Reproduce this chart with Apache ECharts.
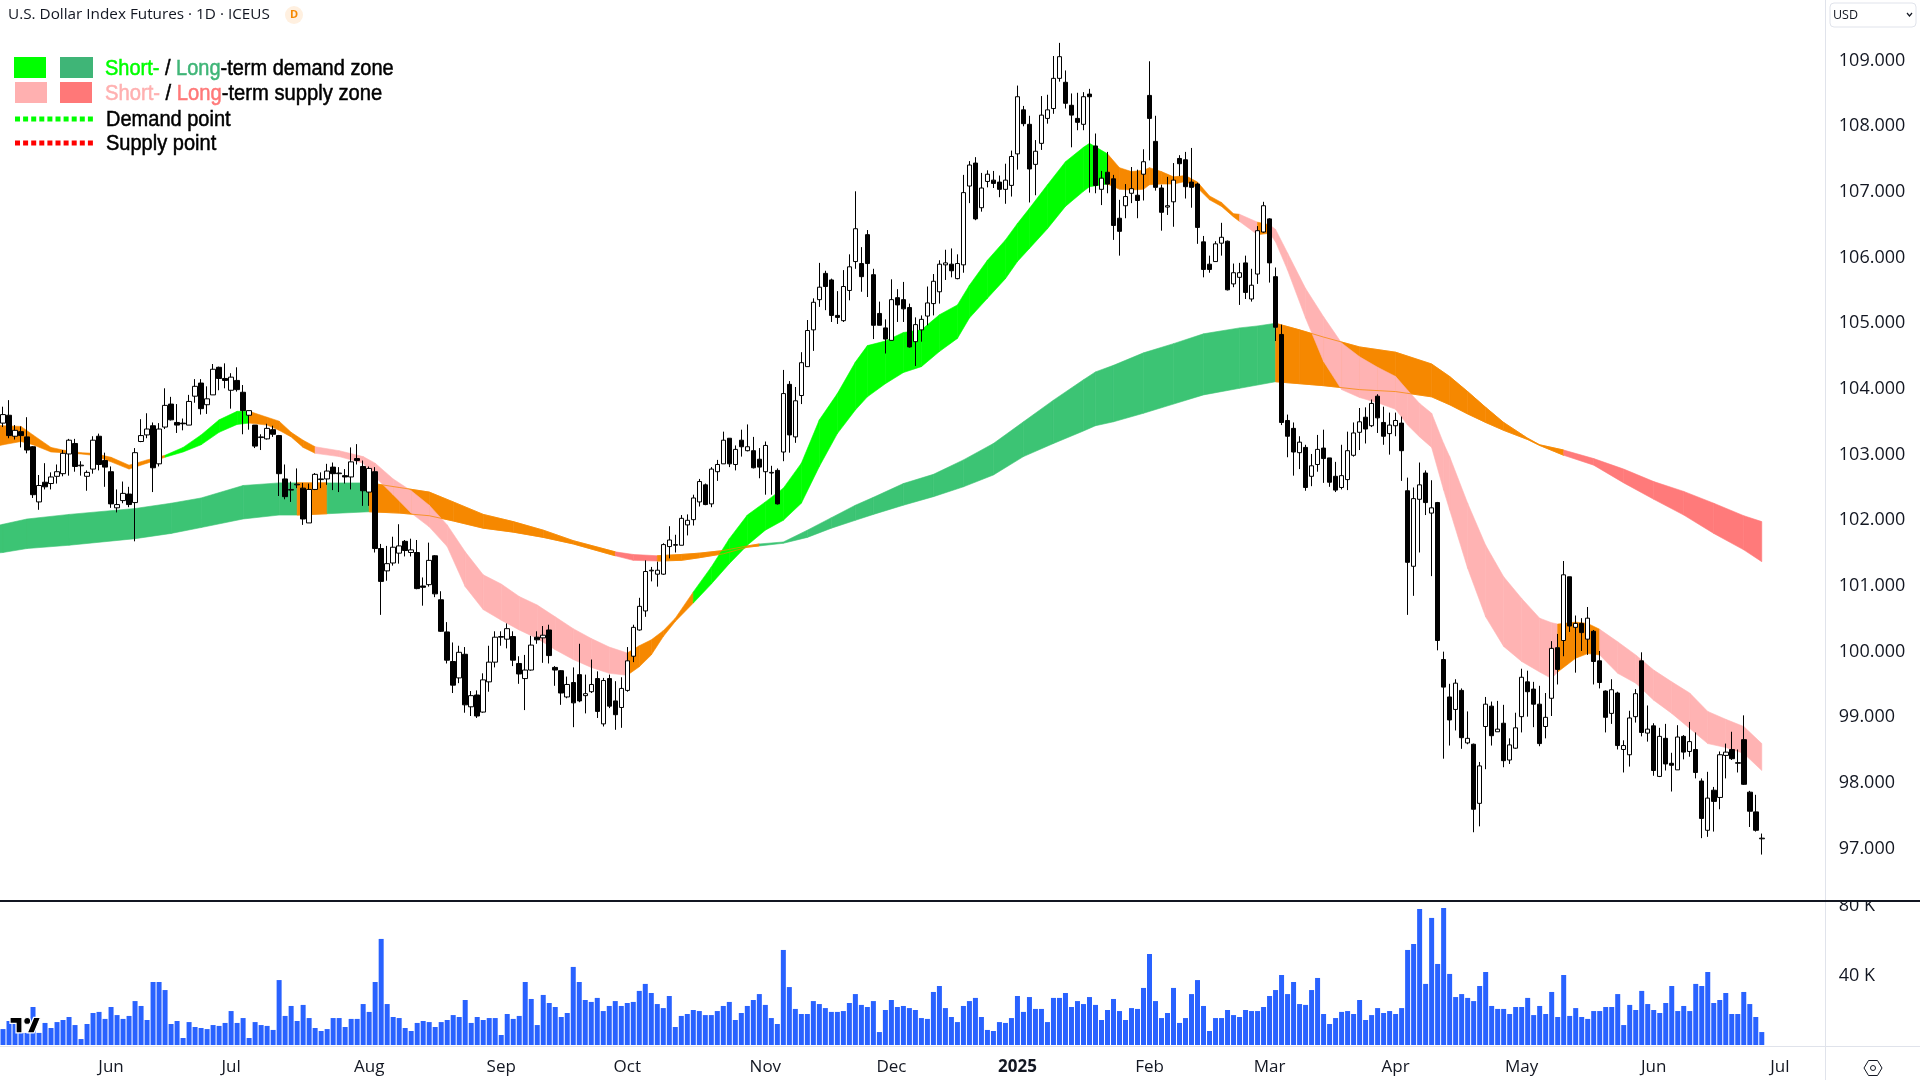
<!DOCTYPE html>
<html><head><meta charset="utf-8">
<style>html,body{margin:0;padding:0;background:#fff}#c{width:1920px;height:1080px}</style>
<script src="https://cdn.jsdelivr.net/npm/echarts@6/dist/echarts.min.js"></script>
</head><body><div id="c"></div>
<script>
const opens=[103.44,103.56,103.24,103.31,103.23,103.08,102.24,102.54,102.52,102.63,
102.67,102.97,103.13,102.79,102.63,102.74,103.24,102.87,102.70,102.15,
102.26,102.36,102.23,103.16,103.26,103.40,102.82,103.38,103.73,103.45,
103.44,103.41,103.85,104.05,103.72,103.87,104.29,104.12,103.94,104.09,
103.91,103.56,103.41,103.22,103.20,103.34,103.25,102.59,102.42,102.50,
102.45,101.92,102.43,102.58,102.59,102.77,102.67,102.64,102.62,102.90,
102.78,102.39,102.70,101.53,101.19,101.31,101.46,101.64,101.47,101.47,
100.96,100.98,101.42,100.75,100.26,99.81,99.56,99.92,99.12,99.30,
99.04,99.50,99.80,100.18,100.15,100.19,99.78,99.55,99.68,100.18,
100.17,100.29,99.72,99.67,99.27,99.49,99.61,99.29,99.35,99.55,
98.86,99.55,99.21,99.11,99.37,99.89,100.29,100.58,101.19,101.14,
101.14,101.56,101.58,101.58,101.89,101.97,102.24,102.50,102.21,102.70,
102.82,103.21,102.81,103.18,103.02,103.02,102.89,102.70,102.68,102.72,
103.00,104.03,103.23,103.86,104.30,104.86,105.32,105.72,105.62,105.08,
105.00,105.46,105.90,105.87,106.31,105.70,105.11,104.89,104.70,105.35,
105.32,105.20,104.68,104.86,105.07,105.26,105.44,105.85,105.86,105.64,
105.85,107.05,107.40,106.72,107.12,107.14,107.11,107.00,107.06,107.54,
108.21,107.99,107.38,107.70,108.08,108.23,108.69,108.63,108.28,108.08,
107.99,108.45,107.66,107.00,107.26,107.16,106.56,106.75,106.94,106.91,
107.23,108.43,107.73,107.02,106.73,106.81,107.47,107.45,107.11,107.08,
106.20,105.86,105.90,106.18,106.21,105.56,105.66,105.88,105.33,105.71,
106.35,106.55,105.67,104.79,103.48,103.36,102.99,103.07,102.63,102.81,
103.06,102.91,102.63,102.46,102.58,102.95,103.30,103.53,103.40,103.85,
103.45,103.28,103.40,103.44,102.41,101.26,102.28,102.68,102.07,102.23,
99.84,99.27,99.08,99.37,98.57,98.55,97.65,98.82,99.13,98.74,
98.87,98.31,98.49,98.97,99.50,99.39,99.16,98.82,99.25,100.02,
100.13,101.10,100.33,100.39,100.15,100.27,99.82,99.36,99.02,99.33,
98.47,98.39,98.97,99.82,98.72,98.83,98.06,98.64,98.26,98.16,
98.67,98.44,98.47,97.99,97.24,97.85,97.74,98.38,98.47,98.26,
98.62,97.82,97.52,97.11];
const closes=[103.57,103.25,103.33,103.25,103.03,102.35,102.49,102.47,102.62,102.70,
102.98,103.18,102.78,102.80,102.69,103.18,102.81,102.77,102.21,102.20,
102.37,102.20,102.99,103.25,103.35,102.76,103.35,103.71,103.49,103.41,
103.43,103.77,104.00,103.66,103.81,104.26,104.12,104.09,104.14,103.95,
103.63,103.63,103.09,103.23,103.36,103.27,102.67,102.32,102.43,102.51,
101.98,102.43,102.66,102.59,102.71,102.67,102.68,102.62,102.85,102.87,
102.41,102.75,101.53,101.03,101.30,101.55,101.57,101.50,101.51,100.92,
100.94,101.35,100.84,100.27,99.83,99.45,99.95,99.15,99.29,98.98,
99.53,99.80,100.18,100.19,100.31,99.83,99.62,99.68,100.06,100.14,
100.21,99.90,99.68,99.33,99.46,99.18,99.21,99.32,99.46,99.05,
99.52,99.13,99.00,99.40,99.82,100.33,100.65,101.18,101.20,101.20,
101.59,101.66,101.59,101.99,101.96,102.30,102.55,102.20,102.74,102.81,
103.18,102.82,103.04,103.08,103.08,102.76,102.77,103.10,102.69,102.21,
103.89,103.26,103.78,104.36,104.85,105.28,105.51,105.52,105.08,105.05,
105.52,105.82,106.40,105.67,105.87,104.93,104.93,104.72,105.32,105.24,
105.18,104.60,104.94,105.02,105.27,105.60,105.86,105.88,105.76,105.87,
106.95,107.37,106.55,107.02,107.23,107.09,107.00,107.14,107.50,108.41,
108.00,107.31,107.58,108.13,108.21,108.69,109.02,108.31,108.13,108.02,
108.41,108.41,107.06,107.17,107.08,106.45,106.36,106.89,107.01,106.83,
107.42,108.08,107.03,106.65,106.75,107.14,107.39,107.04,107.03,106.42,
105.78,105.78,106.17,106.27,105.47,105.73,105.73,105.43,105.54,106.37,
106.75,105.88,104.90,103.45,103.24,103.00,103.15,102.46,102.79,103.04,
102.90,102.54,102.42,102.64,103.02,103.29,103.46,103.35,103.74,103.52,
103.24,103.41,103.48,103.02,101.32,102.29,102.50,102.23,102.15,100.13,
99.42,98.92,99.48,98.65,98.64,97.56,98.22,99.16,98.68,98.78,
98.30,98.54,98.80,99.57,99.35,99.16,98.56,98.96,100.01,99.69,
101.13,100.35,100.39,100.25,100.47,99.81,99.49,98.96,99.38,98.53,
98.53,98.95,99.32,98.73,98.78,98.15,98.67,98.25,98.23,98.66,
98.43,98.59,98.12,97.42,97.73,97.68,98.39,98.43,98.33,98.27,
97.94,97.53,97.24,97.12];
const highs=[103.69,103.79,103.41,103.39,103.53,103.09,102.65,102.83,102.69,102.81,
103.03,103.20,103.20,102.86,102.72,103.24,103.28,102.99,102.78,102.43,
102.55,102.47,103.06,103.50,103.59,103.45,103.44,103.97,103.84,103.73,
103.51,103.87,104.11,104.11,104.00,104.34,104.30,104.35,104.20,104.29,
104.02,103.63,103.41,103.27,103.43,103.40,103.26,102.81,102.55,102.75,
102.53,102.52,102.68,102.69,102.82,102.84,102.77,102.74,103.07,103.12,
102.87,102.78,102.77,101.60,101.57,101.71,101.90,101.66,101.68,101.66,
101.09,101.62,101.43,100.88,100.41,100.10,100.05,100.03,99.36,99.37,
99.63,100.05,100.27,100.27,100.39,100.27,99.89,99.91,100.20,100.27,
100.35,100.37,99.74,99.68,99.58,99.72,100.08,99.61,99.84,99.66,
99.56,99.61,99.51,99.57,100.03,100.37,100.78,101.35,101.25,101.33,
101.61,101.87,101.74,102.04,102.05,102.35,102.59,102.52,102.77,102.88,
103.31,103.21,103.10,103.34,103.42,103.23,103.06,103.16,102.79,102.75,
104.25,104.08,103.99,104.52,105.01,105.34,105.88,105.76,105.64,105.45,
105.77,106.01,106.97,106.12,106.38,105.79,105.29,105.02,105.63,105.48,
105.59,105.26,105.05,105.08,105.52,105.71,105.92,106.08,106.10,106.01,
107.22,107.43,107.49,107.25,107.29,107.28,107.21,107.39,107.59,108.58,
108.27,108.12,107.75,108.42,108.44,109.03,109.23,108.81,108.46,108.47,
108.48,108.53,107.85,107.28,107.57,107.22,106.84,107.08,107.34,107.30,
107.61,108.95,108.12,107.07,107.19,107.40,107.52,107.57,107.63,107.10,
106.29,105.99,106.21,106.49,106.22,105.87,105.88,105.99,105.79,106.44,
106.81,106.56,105.81,104.94,103.57,103.45,103.24,103.11,102.97,103.26,
103.34,102.91,102.85,103.11,103.31,103.45,103.67,103.68,103.80,103.88,
103.69,103.60,103.60,103.54,102.61,102.46,102.84,102.72,102.57,102.24,
99.96,99.47,99.54,99.40,99.05,98.56,98.28,99.27,99.20,99.21,
99.15,98.64,99.03,99.70,99.67,99.50,99.44,99.33,100.12,100.23,
101.34,101.10,100.51,100.47,100.64,100.29,99.97,99.37,99.54,99.35,
98.61,99.06,99.39,99.95,99.14,98.87,98.80,98.86,98.42,98.84,
98.69,98.89,98.73,98.03,98.13,97.90,98.44,98.56,98.74,98.47,
98.99,97.84,97.78,97.19];
const lows=[103.38,103.21,103.19,103.07,102.98,102.30,102.12,102.43,102.43,102.52,
102.63,102.64,102.70,102.64,102.41,102.67,102.72,102.47,102.15,102.08,
102.22,102.16,101.64,103.15,103.21,102.39,102.78,103.35,103.48,103.29,
103.33,103.41,103.75,103.57,103.58,103.87,103.94,103.97,103.66,103.92,
103.27,103.34,103.06,103.03,103.19,103.23,102.33,102.28,102.24,102.45,
101.89,101.92,102.42,102.45,102.50,102.42,102.39,102.52,102.43,102.81,
102.18,102.18,101.47,100.52,101.04,101.27,101.30,101.41,101.41,100.91,
100.66,100.95,100.79,100.26,99.78,99.33,99.48,99.03,98.98,98.95,
99.03,99.35,99.72,100.05,100.01,99.74,99.47,99.07,99.67,100.08,
99.79,99.78,99.44,99.15,99.25,98.81,99.19,99.02,99.33,98.95,
98.82,99.10,98.77,98.80,99.35,99.80,100.28,100.49,101.03,100.95,
101.13,101.38,101.47,101.58,101.73,101.88,102.17,102.19,102.16,102.56,
102.82,102.77,102.72,102.93,103.01,102.75,102.60,102.35,102.35,102.20,
102.86,102.99,103.14,103.73,104.30,104.54,105.21,105.16,104.98,104.95,
104.98,105.31,105.79,105.44,105.36,104.72,104.93,104.50,104.70,104.98,
104.98,104.59,104.31,104.68,104.93,105.08,105.26,105.62,105.66,105.63,
105.73,106.79,106.53,106.66,107.03,107.02,106.88,106.78,106.89,107.30,
107.96,106.80,106.91,107.60,108.00,108.15,108.64,108.23,107.64,107.90,
107.90,106.95,106.94,106.76,106.94,106.23,105.99,106.56,106.79,106.56,
106.83,107.44,106.98,106.37,106.61,106.43,107.20,106.86,106.72,106.17,
105.66,105.73,105.90,105.99,105.46,105.51,105.24,105.33,105.29,105.56,
106.34,105.58,104.69,103.41,102.92,102.64,102.74,102.41,102.48,102.70,
102.53,102.47,102.39,102.43,102.42,102.93,103.03,103.13,103.38,103.29,
103.11,102.96,103.24,102.56,100.52,100.81,101.47,102.04,101.11,99.98,
98.33,98.53,98.76,98.48,98.55,97.21,97.30,98.17,98.53,98.74,
98.20,98.25,98.48,98.73,98.97,98.81,98.52,98.64,98.98,99.46,
99.89,100.26,99.64,99.97,99.91,99.46,99.40,98.73,98.86,98.47,
98.12,98.21,98.88,98.67,98.59,98.07,98.05,98.15,97.83,98.16,
98.32,98.36,98.03,97.12,97.14,97.22,97.56,98.03,98.31,98.12,
97.93,97.29,97.22,96.87];
const volumesK=[9.1,13.7,12,6.9,6.9,21.7,6.9,12.6,9.7,13.1,
14.3,16,11.4,3.4,12,18.3,18.9,14.9,21.7,17.1,
14.9,16.6,25.1,22.3,14.3,36,36,31.4,12,13.7,
4,13.1,10.3,9.7,9.1,11.4,10.9,12.6,19.4,12.6,
15.4,4,13.1,11.4,10.9,8.6,37.1,16.6,22.3,13.7,
22.9,15.4,9.7,8,9.1,15.4,15.4,10.3,14.9,14.9,
23.4,18.9,36,60.6,23.4,16,15.4,9.7,8,12.6,
13.7,13.1,10.3,13.1,14.3,17.1,16,25.7,12.6,16,
14.3,15.4,15.4,5.7,17.7,14.9,16.6,36,26.3,11.4,
28.6,24,21.7,16,18.3,44.6,36,25.7,24.6,26.9,
19.4,22.3,25.1,22.3,24,24.6,30.9,34.9,29.7,23.4,
21.1,28,10.3,16.6,17.7,20,19.4,17.1,17.1,19.4,
22.3,24.6,14.3,18.3,22.3,25.7,29.1,22.9,15.4,12,
54.3,33.1,20.6,17.7,17.7,25.1,23.4,21.1,18.9,18.9,
19.4,24,29.1,22.9,21.7,25.1,7.4,20,25.7,21.7,
22.3,21.1,20,15.4,14.9,30.3,33.7,21.1,16,13.1,
22.3,25.1,26.9,16,8.6,8,13.1,12.6,15.4,28,
18.9,27.4,20.6,20.6,13.1,26.9,26.9,29.7,21.7,25.1,
23.4,27.4,22.9,14.3,20,26.3,19.4,14.3,21.1,20.6,
32.6,52,25.1,15.4,18.3,32.6,12.6,15.4,29.1,37.1,
22.3,8,15.4,15.4,20,17.1,16,20,19.4,19.4,
21.7,28,31.4,40,29.1,36,23.4,22.9,31.4,38.3,
17.7,12,15.4,18.9,19.4,17.7,25.7,14.3,17.1,21.1,
18.3,19.4,17.7,21.1,54.3,57.7,77.7,34.9,72.6,46.3,
78.3,40.6,27.4,29.1,26.9,25.1,33.7,41.7,22.3,20.6,
20.6,17.7,21.7,21.7,26.9,17.1,22.3,17.7,30.3,16,
40,16.6,21.1,16,14.9,19.4,19.4,21.7,21.7,29.1,
11.4,22.9,20,30.9,23.4,20,18.3,24,33.7,19.4,
22.3,19.4,34.9,33.7,41.7,24,25.7,29.7,17.7,17.7,
30.3,23.4,16,7.4];

// Long-term band: vertices read at these bars
const longBars=[-1,0,4,11,22,28,33,40,46,49,54,61,66,71,75,80,85,90,95,102,105,109,113,116,120,124,126,130,134,138,142,145,150,155,160,165,170,175,180,182,185,190,195,200,206,209,212,216,220,226,232,238,241,244,247,250,254,256,260,265,270,275,280,285,290,293];
const longTop=[101.88,101.90,101.98,102.05,102.14,102.22,102.30,102.49,102.53,102.53,102.53,102.53,102.46,102.39,102.24,102.05,101.94,101.81,101.65,101.48,101.44,101.42,101.44,101.46,101.50,101.57,101.60,101.63,101.81,102.00,102.19,102.31,102.52,102.66,102.88,103.13,103.46,103.79,104.10,104.22,104.32,104.51,104.65,104.80,104.89,104.92,104.96,104.86,104.75,104.60,104.52,104.34,104.15,103.92,103.68,103.45,103.21,103.11,103.03,102.90,102.74,102.55,102.40,102.22,102.03,101.94];
const longBot=[101.46,101.47,101.53,101.58,101.68,101.76,101.85,101.98,102.04,102.04,102.06,102.09,102.07,102.03,101.95,101.84,101.78,101.70,101.60,101.42,101.35,101.34,101.35,101.39,101.45,101.55,101.57,101.61,101.70,101.84,101.96,102.05,102.19,102.32,102.47,102.65,102.93,103.13,103.32,103.40,103.46,103.59,103.73,103.87,103.97,104.02,104.07,104.04,104.01,103.95,103.92,103.84,103.72,103.58,103.45,103.33,103.19,103.10,102.95,102.80,102.53,102.28,102.04,101.76,101.51,101.33];
const longBreaks=[49,54,61,102,109,126,212,260];
const longZones=['demand','neutral','demand','neutral','supply','neutral','demand','neutral','supply'];

// Short-term band
const shortBars=[-1,0,3,5,8,10,13,15,18,21,24,27,30,33,36,39,41,44,46,48,50,52,56,60,62,65,68,71,74,77,80,83,86,89,92,95,98,101,104,106,108,110,112,115,118,121,124,127,130,133,136,139,142,144,147,150,153,156,159,161,164,167,169,171,174,177,180,181,184,186,188,190,191,193,195,197,199,201,203,205,206,209,211,212,214,217,220,223,226,229,232,234,236,238,240,241,244,247,250,253,256,258,259,262,264,266,269,272,275,278,281,284,287,290,293];
const shortTop=[103.41,103.40,103.39,103.26,103.07,103.03,102.99,102.98,102.92,102.80,102.88,102.95,103.07,103.26,103.49,103.62,103.62,103.53,103.47,103.30,103.18,103.08,103.02,102.93,102.83,102.59,102.41,102.19,101.89,101.48,101.13,100.99,100.80,100.67,100.49,100.31,100.16,100.03,99.94,100.05,100.14,100.28,100.47,100.87,101.25,101.68,102.04,102.24,102.45,102.83,103.49,103.89,104.37,104.62,104.69,104.82,104.86,105.09,105.24,105.54,105.92,106.23,106.48,106.71,107.07,107.42,107.64,107.70,107.54,107.33,107.27,107.29,107.33,107.27,107.19,107.21,107.11,106.90,106.80,106.63,106.62,106.50,106.46,106.39,106.03,105.49,105.06,104.66,104.45,104.29,104.15,103.94,103.74,103.59,103.13,102.93,102.22,101.58,101.10,100.77,100.47,100.40,100.38,100.41,100.39,100.30,100.11,99.91,99.68,99.50,99.33,99.05,98.93,98.82,98.56];
const shortBot=[103.09,103.11,103.16,103.11,103.00,102.99,102.97,102.95,102.85,102.74,102.83,102.92,103.00,103.11,103.30,103.42,103.44,103.41,103.33,103.23,103.07,102.98,102.93,102.83,102.62,102.35,102.07,101.86,101.56,100.95,100.60,100.44,100.29,100.16,99.99,99.84,99.72,99.63,99.60,99.73,99.91,100.19,100.42,100.70,100.99,101.30,101.58,101.81,101.96,102.22,102.78,103.28,103.64,103.84,104.04,104.21,104.30,104.53,104.73,105.04,105.34,105.64,105.90,106.10,106.40,106.74,106.97,107.04,107.08,107.00,106.99,107.00,107.07,107.08,107.08,107.12,107.02,106.84,106.74,106.58,106.51,106.31,106.33,106.20,105.77,105.04,104.38,103.95,103.83,103.75,103.65,103.41,103.23,103.07,102.42,102.12,101.23,100.49,100.04,99.81,99.65,99.55,99.65,99.86,99.93,99.91,99.63,99.48,99.22,99.02,98.79,98.56,98.50,98.41,98.15];
const shortBreaks=[27,41,52,104,115,184,206,209,211,259,266];
const shortZones=['neutral','demand','neutral','supply','neutral','demand','neutral','supply','neutral','supply','neutral','supply'];

const priceTicks=[97,98,99,100,101,102,103,104,105,106,107,108,109];
const volumeTicks=[40,80];
const timeTicks={18:'Jun',38:'Jul',61:'Aug',83:'Sep',104:'Oct',127:'Nov',148:'Dec',169:'2025',191:'Feb',211:'Mar',232:'Apr',253:'May',275:'Jun',296:'Jul'};

const SLOTS=304;
const categories=Array.from({length:SLOTS},(_,i)=>String(i));
const longColors={demand:'#3cc474',neutral:'#f68800',supply:'#ff7a7a'};
const shortColors={demand:'#00ff00',neutral:'#f68800',supply:'#ffb3b3'};
const sans='"Open Sans","Noto Sans",sans-serif';

function segments(bars,top,bot,breaks,zones){
  const out=[];
  for(let k=0;k<bars.length-1;k++){
    let z=0; while(z<breaks.length && bars[k]>=breaks[z]) z++;
    out.push([bars[k],top[k],bot[k],bars[k+1],top[k+1],bot[k+1],zones[z]]);
  }
  return out;
}
const longSeg=segments(longBars,longTop,longBot,longBreaks,longZones);
const shortSeg=segments(shortBars,shortTop,shortBot,shortBreaks,shortZones);
function bandSeries(seg,colors,z){
  return {type:'custom',xAxisIndex:0,yAxisIndex:0,z,silent:true,animation:false,
    encode:{x:[0,3],y:[1,2,4,5]},
    data:seg.map(s=>s.slice(0,6)),
    renderItem(p,api){
      const a=api.coord([api.value(0),api.value(1)]),b=api.coord([api.value(0),api.value(2)]);
      const c=api.coord([api.value(3),api.value(5)]),d=api.coord([api.value(3),api.value(4)]);
      const col=colors[seg[p.dataIndex][6]];
      return {type:'polygon',shape:{points:[a,d,c,b]},style:{fill:col,stroke:col,lineWidth:0.6}};
    }};
}
const edgeSeg=longSeg.filter(s=>s[6]==='neutral');
const edgeSeries={type:'custom',xAxisIndex:0,yAxisIndex:0,z:3,silent:true,animation:false,
  encode:{x:[0,3],y:[1,2,4,5]},data:edgeSeg.map(s=>s.slice(0,6)),
  renderItem(p,api){
    const s={stroke:'#f68800',lineWidth:1,opacity:.75,fill:null};
    const L=(u,v)=>({type:'line',shape:{x1:u[0],y1:u[1],x2:v[0],y2:v[1]},style:s});
    return {type:'group',children:[
      L(api.coord([api.value(0),api.value(1)]),api.coord([api.value(3),api.value(4)])),
      L(api.coord([api.value(0),api.value(2)]),api.coord([api.value(3),api.value(5)]))]};
  }};

const candles=opens.map((o,i)=>[o,closes[i],lows[i],highs[i]]);
const boxes=[[14,57,32,21,'#00ff00'],[60,57,33,21,'#3fb577'],[15,82,32,21,'#ffb0b0'],[60,82,32,21,'#ff7878']];
const tok=(c)=>({fill:c,font:'22px "Liberation Sans"',stroke:c,lineWidth:.5});
const g=[];
const legendText=(x,y,text,rich,sx)=>g.push({type:'text',x,y,scaleX:sx||.91,z:50,style:{text,verticalAlign:'middle',rich}});
boxes.forEach(b=>g.push({type:'rect',shape:{x:b[0],y:b[1],width:b[2],height:b[3]},style:{fill:b[4]},z:50}));
[['#00ff00',119],['#ff0000',143]].forEach(d=>g.push({type:'line',shape:{x1:15,y1:d[1],x2:93,y2:d[1]},style:{stroke:d[0],lineWidth:5,lineDash:[5,3.1]},z:50}));
legendText(105,69,'{a|Short-}{k| / }{b|Long}{k|-term demand zone}',{a:tok('#00ff00'),b:tok('#3fb577'),k:tok('#000')},.908);
legendText(105,94,'{a|Short-}{k| / }{b|Long}{k|-term supply zone}',{a:tok('#ffb0b0'),b:tok('#ff7878'),k:tok('#000')},.918);
legendText(106,120,'{k|Demand point}',{k:tok('#000')});
legendText(106,144,'{k|Supply point}',{k:tok('#000')});
g.push({type:'text',x:8,y:15,z:50,style:{text:'U.S. Dollar Index Futures · 1D · ICEUS',fill:'#131722',font:'15.3px '+sans,verticalAlign:'middle'}});
g.push({type:'circle',shape:{cx:294,cy:15,r:9},style:{fill:'#fff0e0'},z:50});
g.push({type:'text',x:294,y:15,z:51,style:{text:'D',fill:'#f68800',font:'bold 11px '+sans,align:'center',verticalAlign:'middle'}});
g.push({type:'rect',shape:{x:1830,y:3,width:86,height:24,r:4},style:{fill:'#fff',stroke:'#e0e3eb',lineWidth:1},z:50});
g.push({type:'text',x:1833,y:15,z:51,style:{text:'USD',fill:'#131722',font:'12.5px '+sans,verticalAlign:'middle'}});
g.push({type:'polyline',shape:{points:[[1907,13],[1909.5,16],[1912,13]]},style:{stroke:'#131722',fill:null,lineWidth:1.2},z:51});
g.push({type:'rect',shape:{x:1826,y:885,width:94,height:16},style:{fill:'#fff'},z:60});
g.push({type:'line',shape:{x1:1825.5,y1:0,x2:1825.5,y2:1080},style:{stroke:'#e0e3eb',lineWidth:1},z:61});
g.push({type:'line',shape:{x1:0,y1:1046.5,x2:1920,y2:1046.5},style:{stroke:'#e0e3eb',lineWidth:1},z:61});
g.push({type:'line',shape:{x1:0,y1:901,x2:1920,y2:901},style:{stroke:'#131722',lineWidth:2},z:62});
const logo={x:10,y:1014,scaleX:.86,scaleY:.86,z:70};
g.push(Object.assign({type:'polygon',shape:{points:[[14,22],[7,22],[7,11],[0,11],[0,4],[14,4]]},style:{fill:'#000',stroke:'#fff',lineWidth:1.5}},logo));
g.push(Object.assign({type:'polygon',shape:{points:[[28,22],[20,22],[27.5,4],[35.5,4]]},style:{fill:'#000',stroke:'#fff',lineWidth:1.5}},logo));
g.push(Object.assign({type:'circle',shape:{cx:20,cy:8,r:4},style:{fill:'#000',stroke:'#fff',lineWidth:1.2}},logo));
g.push({type:'polygon',z:50,shape:{points:[[1864,1068],[1868.5,1060.5],[1877.5,1060.5],[1882,1068],[1877.5,1075.5],[1868.5,1075.5]]},style:{fill:'#fff',stroke:'#131722',lineWidth:1}});
g.push({type:'circle',z:51,shape:{cx:1873,cy:1068,r:2.5},style:{fill:'#fff',stroke:'#131722',lineWidth:1}});

const chart=echarts.init(document.getElementById('c'),null,{renderer:'canvas'});
chart.setOption({
  animation:false,backgroundColor:'#fff',
  grid:[{left:-0.4,width:1825.2,top:0,height:901},{left:-0.4,width:1825.2,top:902,height:143}],
  xAxis:[
    {type:'category',gridIndex:0,data:categories,boundaryGap:true,axisLine:{show:false},axisTick:{show:false},axisLabel:{show:false},splitLine:{show:false}},
    {type:'category',gridIndex:1,data:categories,boundaryGap:true,axisLine:{show:false},axisTick:{show:false},splitLine:{show:false},
      axisLabel:{show:true,interval:(i)=>timeTicks[i]!==undefined,margin:14,color:'#131722',fontFamily:'"Open Sans"',fontSize:17,
        hideOverlap:false,
        formatter:(v,i)=>{const t=timeTicks[i];return t==='2025'?'{b|2025}':(t||'');},
        rich:{b:{fontWeight:'bold',fontFamily:'"Open Sans"',fontSize:17,color:'#131722'}}}}
  ],
  yAxis:[
    {type:'value',gridIndex:0,position:'right',min:96.163,max:109.883,splitLine:{show:false},axisLine:{show:false},axisTick:{show:false},
      axisLabel:{customValues:priceTicks,margin:14,align:'left',formatter:v=>'{p|'+v.toFixed(3)+'}',
        rich:{p:{color:'#131722',fontFamily:'"Open Sans"',fontSize:18,padding:[5,0,0,0]}}}},
    {type:'value',gridIndex:1,position:'right',min:0,max:81.7,splitLine:{show:false},axisLine:{show:false},axisTick:{show:false},
      axisLabel:{customValues:volumeTicks,margin:14,align:'left',formatter:v=>'{p|'+v+' K}',
        rich:{p:{color:'#131722',fontFamily:'"Open Sans"',fontSize:18,padding:[1,0,0,0]}}}}
  ],
  series:[
    bandSeries(longSeg,longColors,1),
    bandSeries(shortSeg,shortColors,2),
    edgeSeries,
    {type:'candlestick',xAxisIndex:0,yAxisIndex:0,z:4,data:candles,barWidth:5,
      itemStyle:{color:'#ffffff',color0:'#000000',borderColor:'#000000',borderColor0:'#000000',borderWidth:1}},
    {type:'bar',xAxisIndex:1,yAxisIndex:1,data:volumesK,barWidth:5,itemStyle:{color:'#2962ff'}}
  ],
  graphic:g
});
</script></body></html>
